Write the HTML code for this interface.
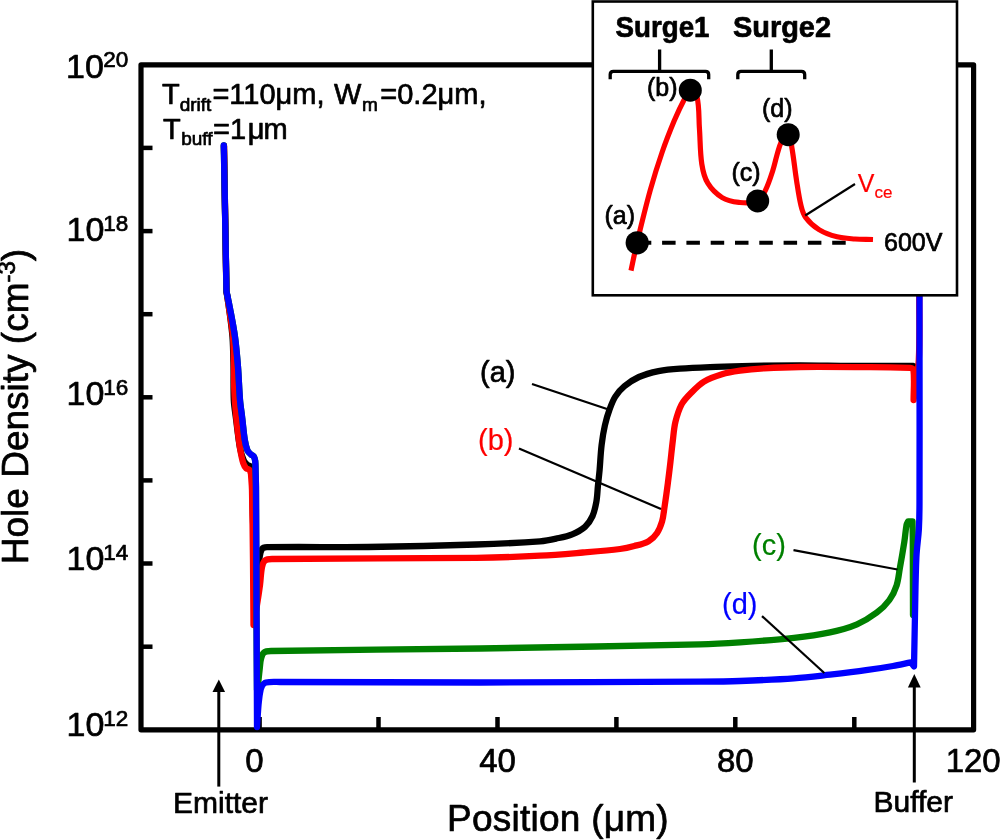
<!DOCTYPE html>
<html><head><meta charset="utf-8"><style>
html,body{margin:0;padding:0;background:#fff;}
svg{display:block;will-change:transform;}
text{font-family:"Liberation Sans", sans-serif;stroke:#000;stroke-width:0.7px;stroke-linejoin:round;}
.r{stroke:#f00;stroke-width:0.2px;} .g{stroke:#008000;stroke-width:0.2px;} .b{stroke:#00f;stroke-width:0.2px;}
</style></head><body>
<svg width="1000" height="840" viewBox="0 0 1000 840">
<rect width="1000" height="840" fill="#fff"/>
<g fill="none" stroke="#000" stroke-width="5.2" stroke-linejoin="round">
<rect x="141" y="64.8" width="832.6" height="665"/>
</g>
<g stroke="#000" stroke-width="4.5"><line x1="141" y1="147.9" x2="152.5" y2="147.9"/><line x1="141" y1="231.1" x2="152.5" y2="231.1"/><line x1="141" y1="314.2" x2="152.5" y2="314.2"/><line x1="141" y1="397.3" x2="152.5" y2="397.3"/><line x1="141" y1="480.4" x2="152.5" y2="480.4"/><line x1="141" y1="563.5" x2="152.5" y2="563.5"/><line x1="141" y1="646.7" x2="152.5" y2="646.7"/><line x1="259.6" y1="730" x2="259.6" y2="717"/><line x1="378.5" y1="730" x2="378.5" y2="717"/><line x1="497.5" y1="730" x2="497.5" y2="717"/><line x1="616.4" y1="730" x2="616.4" y2="717"/><line x1="735.3" y1="730" x2="735.3" y2="717"/><line x1="854.3" y1="730" x2="854.3" y2="717"/></g>
<g font-size="34" fill="#000">
<text x="66" y="77.6">10<tspan font-size="22.5" x="103.2" dy="-10.5">20</tspan></text>
<text x="66.5" y="241.1">10<tspan font-size="22.5" x="103.2" dy="-10.0">18</tspan></text>
<text x="66.5" y="405">10<tspan font-size="22.5" x="103.2" dy="-10.0">16</tspan></text>
<text x="66.5" y="570.3">10<tspan font-size="22.5" x="103.2" dy="-10.0">14</tspan></text>
<text x="66.5" y="735.7">10<tspan font-size="22.5" x="103.2" dy="-9.5">12</tspan></text>
</g>
<g font-size="33" fill="#000" text-anchor="middle">
<text x="254.5" y="772.4">0</text>
<text x="497.5" y="772.4">40</text>
<text x="735.3" y="772.4">80</text>
<text x="973.2" y="772.4">120</text>
</g>
<text x="447" y="831.2" font-size="37" letter-spacing="0.25">Position (&#956;m)</text>
<text transform="translate(28,564.2) rotate(-90)" font-size="37">Hole Density (cm<tspan font-size="24" dy="-13">-3</tspan><tspan dy="13">)</tspan></text>
<g stroke="#000" stroke-width="3" fill="none">
<line x1="218.8" y1="690" x2="218.8" y2="786.6"/>
<line x1="914.3" y1="685" x2="914.3" y2="782.5"/>
</g>
<path d="M218.8,679.5 L225.1,692 L212.5,692 Z" fill="#000"/>
<path d="M914.3,673.9 L920.7,687.5 L907.9,687.5 Z" fill="#000"/>
<text x="173" y="812.7" font-size="30">Emitter</text>
<text x="873.5" y="812.4" font-size="30">Buffer</text>
<g font-size="29" fill="#000">
<text x="162" y="103.8">T<tspan font-size="19" dy="6.7">drift</tspan><tspan dy="-6.7" dx="1">=110&#956;m, </tspan><tspan dx="1.5">W</tspan><tspan font-size="19" dy="6.7" dx="0.5">m</tspan><tspan dy="-6.7" dx="2.5">=0.2&#956;m,</tspan></text>
<text x="163" y="138.9">T<tspan font-size="19" dy="6.3" dx="0.5">buff</tspan><tspan dy="-6.3" dx="0.5">=1</tspan><tspan dx="1.5">&#956;</tspan><tspan dx="-1">m</tspan></text>
</g>
<g fill="none" stroke-width="6.3" stroke-linejoin="round" stroke-linecap="round">
<path d="M224.0,146.0 C224.8,194.3 225.6,242.7 226.4,291.0 C227.3,296.7 228.2,302.3 229.0,308.0 C230.3,317.7 231.7,327.3 232.5,337.0 C233.2,346.6 233.3,356.3 233.5,366.0 C233.7,377.3 233.3,388.7 233.8,400.0 C234.1,406.2 235.2,412.4 236.0,418.6 C237.3,428.4 238.2,438.2 240.0,447.9 C240.8,452.2 242.0,456.5 243.8,460.5 C244.6,462.3 246.1,463.7 247.5,465.0 C248.3,465.7 250.0,465.5 250.5,466.5 C251.6,468.8 251.9,471.5 252.0,474.0 C252.7,489.3 252.5,504.7 253.0,520.0 C253.8,546.7 255.0,573.3 256.0,600.0 C256.7,591.7 257.3,583.3 258.0,575.0 C258.5,569.3 258.6,563.6 259.5,558.0 C260.0,554.9 260.2,551.6 262.0,549.0 C263.0,547.5 265.2,547.2 267.0,547.2 C300.7,546.6 334.3,547.4 368.0,547.0 C404.0,546.5 440.0,545.7 476.0,544.5 C497.3,543.8 518.7,542.9 540.0,541.3 C545.4,540.9 550.8,539.8 556.1,538.6 C561.5,537.4 567.1,536.4 572.2,534.3 C576.8,532.4 581.3,530.1 585.0,526.8 C588.2,523.9 590.7,520.1 592.5,516.1 C594.5,511.7 595.4,506.9 596.3,502.2 C597.3,496.9 597.4,491.5 597.9,486.1 C598.5,480.7 599.1,475.4 599.6,470.0 C600.3,461.7 600.6,453.4 601.6,445.1 C602.4,438.5 603.4,431.9 604.9,425.4 C606.1,420.1 607.6,414.8 609.5,409.7 C611.1,405.2 612.7,400.6 615.3,396.6 C617.8,392.7 620.9,389.2 624.5,386.2 C628.9,382.6 633.7,379.3 638.9,377.0 C645.1,374.2 651.8,372.5 658.5,371.1 C665.6,369.7 672.8,369.1 680.0,368.6 C692.0,367.7 704.0,367.3 716.0,366.8 C728.0,366.3 740.0,366.0 752.0,365.8 C768.0,365.5 784.0,365.4 800.0,365.4 C816.7,365.4 833.3,365.9 850.0,366.0 C870.8,366.1 891.7,365.9 912.5,365.8 C913.7,366.2 914.8,366.6 916.0,367.0" stroke="#000"/>
<path d="M224.0,146.0 C224.8,194.3 225.6,242.7 226.4,291.0 C227.3,296.7 228.2,302.3 229.0,308.0 C230.4,317.7 232.2,327.3 233.0,337.0 C233.8,346.6 233.8,356.3 234.0,366.0 C234.2,374.0 233.9,382.0 234.3,390.0 C234.7,399.5 235.5,409.1 236.4,418.6 C237.4,428.4 238.5,438.2 240.0,447.9 C240.8,453.0 241.7,458.1 243.2,463.0 C243.8,464.9 244.8,466.8 246.2,468.3 C247.0,469.2 248.7,468.9 249.5,469.8 C250.5,470.9 250.5,472.6 251.0,474.0 C251.3,479.3 251.9,484.7 252.0,490.0 C252.5,513.3 252.7,536.7 253.0,560.0 C253.2,581.7 253.3,603.3 253.5,625.0 C254.7,618.3 255.9,611.7 257.0,605.0 C258.1,598.3 259.1,591.7 260.0,585.0 C260.8,579.0 260.8,572.9 262.0,567.0 C262.5,564.7 263.1,562.0 265.0,560.5 C266.9,559.0 269.6,559.0 272.0,559.0 C340.0,558.1 408.0,558.6 476.0,557.8 C497.3,557.5 518.7,556.8 540.0,555.7 C554.3,555.0 568.6,553.7 582.9,552.5 C595.3,551.5 607.7,550.6 620.0,549.0 C624.8,548.4 629.6,547.3 634.3,546.0 C639.2,544.7 644.2,543.7 648.6,541.2 C652.0,539.2 654.9,536.2 657.1,532.9 C659.5,529.4 660.9,525.4 662.1,521.4 C663.3,517.2 663.7,512.9 664.3,508.6 C665.6,500.0 666.8,491.5 667.9,482.9 C668.8,475.7 669.7,468.6 670.5,461.4 C671.3,454.3 672.0,447.1 672.9,440.0 C673.6,434.0 674.0,427.9 675.4,422.0 C676.9,416.0 678.7,409.9 681.6,404.4 C683.9,400.1 687.5,396.5 691.0,393.0 C695.0,388.9 699.1,384.6 704.0,381.6 C709.5,378.2 715.8,376.1 722.0,374.2 C727.9,372.4 733.9,371.5 740.0,370.6 C748.0,369.5 756.0,368.8 764.0,368.3 C776.0,367.6 788.0,367.1 800.0,367.0 C823.3,366.8 846.7,367.0 870.0,367.2 C883.3,367.3 896.7,367.6 910.0,367.8 C911.2,368.3 913.3,368.6 913.5,370.0 C914.6,379.9 913.6,390.0 913.6,400.0 C915.3,386.7 918.1,373.4 918.8,360.0 C920.0,336.7 919.1,313.3 919.3,290.0" stroke="#f00"/>
<path d="M223.8,145.5 C224.7,194.2 225.6,242.8 226.5,291.5 C227.7,297.2 228.9,302.9 230.0,308.6 C231.8,318.0 233.7,327.5 235.0,337.0 C236.3,346.5 237.1,356.1 237.9,365.7 C238.8,377.1 239.1,388.6 240.0,400.0 C240.5,406.0 241.5,412.0 242.2,418.0 C243.1,425.3 243.6,432.7 244.8,440.0 C245.4,443.6 246.1,447.2 247.5,450.5 C248.2,452.1 249.7,453.3 251.0,454.5 C251.8,455.3 253.2,455.5 253.8,456.5 C254.7,457.8 255.0,459.4 255.2,461.0 C255.6,464.6 255.5,468.3 255.6,472.0 C255.8,478.0 256.0,484.0 256.0,490.0 C256.3,533.3 256.3,576.7 256.5,620.0 C256.6,643.3 256.8,666.7 257.0,690.0 C257.5,686.7 258.1,683.3 258.5,680.0 C259.0,676.0 259.3,672.0 259.8,668.0 C260.2,665.0 260.2,661.9 261.0,659.0 C261.6,656.7 262.1,654.0 264.0,652.5 C265.9,651.0 268.6,651.0 271.0,651.0 C340.7,649.7 410.3,649.6 480.0,648.5 C553.3,647.4 626.7,646.0 700.0,644.3 C713.3,644.0 726.7,643.2 740.0,642.3 C758.0,641.1 776.0,639.8 794.0,637.8 C806.1,636.5 818.1,634.9 830.0,632.4 C839.2,630.4 848.3,628.0 857.0,624.3 C864.1,621.3 870.7,617.2 876.8,612.6 C881.6,609.0 885.9,604.8 889.4,600.0 C892.6,595.6 894.9,590.6 896.6,585.4 C898.4,579.9 898.8,574.1 899.8,568.4 C901.4,559.6 902.9,550.8 904.3,542.0 C905.2,536.4 905.5,530.6 906.5,525.0 C906.7,523.8 907.5,522.7 908.0,521.5 C909.5,521.5 911.0,521.5 912.5,521.5 C912.6,527.7 912.8,533.8 912.8,540.0 C912.9,565.0 912.9,590.0 913.0,615.0" stroke="#008000"/>
<path d="M223.8,145.5 C224.7,194.2 225.6,242.8 226.5,291.5 C227.7,297.2 228.9,302.9 230.0,308.6 C231.8,318.0 233.7,327.5 235.0,337.0 C236.3,346.5 237.1,356.1 237.9,365.7 C238.8,377.1 239.1,388.6 240.0,400.0 C240.5,406.0 241.5,412.0 242.2,418.0 C243.1,425.3 243.6,432.7 244.8,440.0 C245.4,443.6 246.1,447.2 247.5,450.5 C248.2,452.1 249.7,453.3 251.0,454.5 C251.8,455.3 253.2,455.5 253.8,456.5 C254.7,457.8 255.0,459.4 255.2,461.0 C255.6,464.6 255.5,468.3 255.6,472.0 C255.8,478.0 256.0,484.0 256.0,490.0 C256.3,526.7 256.3,563.3 256.5,600.0 C256.7,642.3 256.8,684.7 257.0,727.0 C257.5,719.7 257.9,712.3 258.5,705.0 C258.9,701.0 259.3,697.0 260.0,693.0 C260.4,690.6 260.8,688.1 262.0,686.0 C262.9,684.5 264.3,682.9 266.0,682.5 C270.6,681.5 275.3,682.0 280.0,682.0 C346.7,682.0 413.3,682.5 480.0,682.5 C553.3,682.4 626.7,682.1 700.0,681.7 C713.3,681.6 726.7,681.5 740.0,681.0 C758.0,680.3 776.0,679.6 794.0,678.3 C806.0,677.5 818.0,676.0 830.0,674.7 C842.0,673.3 854.0,671.9 866.0,670.2 C875.0,669.0 884.0,667.6 893.0,666.0 C899.0,664.9 905.0,663.5 911.0,662.3 C912.0,663.7 913.0,665.1 914.0,666.5 C914.3,649.0 914.6,631.5 915.0,614.0 C915.4,595.0 915.5,576.0 916.4,557.0 C916.8,547.5 918.4,538.1 918.9,528.6 C919.4,519.1 919.5,509.5 919.5,500.0 C919.7,430.0 919.5,360.0 919.5,290.0" stroke="#00f"/>
</g>
<g stroke="#000" stroke-width="2.2">
<line x1="532" y1="384" x2="607" y2="409"/>
<line x1="519" y1="448.6" x2="661" y2="509"/>
<line x1="793.5" y1="550.1" x2="897.5" y2="569.5"/>
<line x1="762" y1="616.1" x2="824.3" y2="673"/>
</g>
<g font-size="29">
<text x="480" y="382.4" fill="#000">(a)</text>
<text x="478" y="450" fill="#f00" class="r">(b)</text>
<text x="752" y="555" fill="#008000" class="g">(c)</text>
<text x="722" y="613.5" fill="#00f" class="b">(d)</text>
</g>
<!-- inset -->
<rect x="592.8" y="1.5" width="364.2" height="293.8" fill="#fff" stroke="#000" stroke-width="2.6"/>
<g font-size="30" font-weight="bold">
<text x="615.5" y="37" textLength="94" lengthAdjust="spacingAndGlyphs">Surge1</text>
<text x="733" y="37" textLength="98" lengthAdjust="spacingAndGlyphs">Surge2</text>
</g>
<g fill="none" stroke="#000" stroke-width="3.3" stroke-linejoin="round">
<path d="M610.2,79.2 L610.2,74.5 Q610.2,71.3 613.4,71.3 L705.5,71.3 Q708.7,71.3 708.7,74.5 L708.7,79.2 M659.6,49.4 L659.6,71.3"/>
<path d="M737.8,79.2 L737.8,74.5 Q737.8,71.3 741,71.3 L801.5,71.3 Q804.7,71.3 804.7,74.5 L804.7,79.2 M771.3,49.4 L771.3,71.3"/>
</g>
<line x1="637.8" y1="242.8" x2="846" y2="242.8" stroke="#000" stroke-width="4" stroke-dasharray="13.5 10.8"/>
<path d="M631.0,270.6 C633.0,261.3 634.8,252.0 637.0,242.7 C641.2,225.2 645.4,207.7 650.2,190.4 C653.8,177.5 657.8,164.7 662.2,152.0 C665.8,141.5 669.9,131.1 674.2,120.8 C677.5,113.1 681.1,105.4 685.0,98.0 C686.5,95.2 687.1,90.4 690.3,90.1 C693.4,89.8 696.3,93.7 697.0,96.8 C699.4,106.9 698.7,117.6 699.4,128.0 C700.3,140.0 700.0,152.1 701.8,164.0 C702.8,170.6 704.3,177.5 707.8,183.2 C711.3,189.0 716.4,194.0 722.2,197.6 C727.2,200.7 733.2,201.8 739.0,202.4 C745.2,203.0 752.0,203.8 757.7,201.2 C761.7,199.4 763.4,194.4 765.4,190.4 C768.4,184.3 770.5,177.7 772.6,171.2 C775.7,161.7 777.1,151.6 781.0,142.4 C782.4,139.0 784.8,132.5 788.2,134.0 C792.4,135.9 791.0,142.7 791.8,147.2 C793.8,158.3 794.8,169.6 796.6,180.8 C797.9,189.1 799.0,197.5 801.0,205.6 C802.0,209.8 803.2,214.2 805.8,217.6 C809.4,222.4 813.9,226.5 819.0,229.6 C824.5,233.0 830.7,235.2 837.0,236.8 C842.8,238.3 849.0,238.5 855.0,239.0 C861.0,239.4 867.0,239.3 873.0,239.5" fill="none" stroke="#f00" stroke-width="5.2" stroke-linejoin="round"/>
<g fill="#000">
<circle cx="637.2" cy="242.8" r="11.6"/>
<circle cx="690.3" cy="90.2" r="11.5"/>
<circle cx="757.7" cy="200.9" r="11.5"/>
<circle cx="788.2" cy="134.7" r="11.5"/>
</g>
<g font-size="25" fill="#000" style="stroke-width:0.35px">
<text x="604.5" y="224.2">(a)</text>
<text x="647" y="95.7">(b)</text>
<text x="731.5" y="180.5">(c)</text>
<text x="762" y="116.5">(d)</text>
<text x="884" y="250.7" font-size="25">600V</text>
</g>
<line x1="805.2" y1="215.5" x2="855" y2="184" stroke="#000" stroke-width="2.2"/>
<text x="857.8" y="191.8" font-size="25" fill="#f00" class="r">V<tspan font-size="17" dy="6">ce</tspan></text>
</svg>
</body></html>
